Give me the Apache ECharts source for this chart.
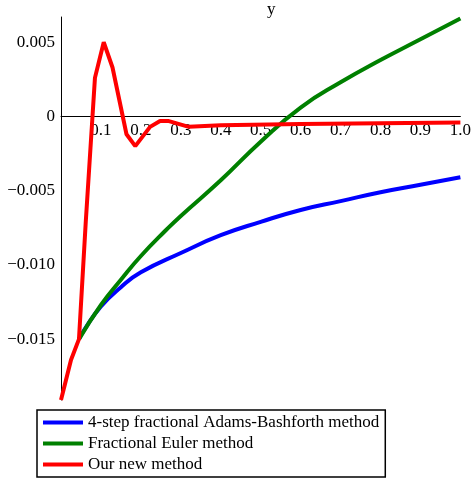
<!DOCTYPE html><html><head><meta charset="utf-8"><script src="https://cdn.jsdelivr.net/npm/echarts@6/dist/echarts.min.js"></script></head><body style="margin:0"><div id="c" style="width:474px;height:482px"></div><script>
const blueX=[0.045,0.06,0.1,0.15,0.2,0.3,0.4,0.5,0.6,0.7,0.8,0.9,1.0];
const blueY=[-0.015,-0.0143,-0.0128,-0.0115,-0.0105,-0.0092,-0.0080,-0.0071,-0.0063,-0.0057,-0.0051,-0.0046,-0.0041];
const greenX=[0.045,0.1,0.15,0.2,0.265,0.3,0.4,0.5,0.6,0.7,0.8,0.9,1.0];
const greenY=[-0.015,-0.0127,-0.0110,-0.0094,-0.0076,-0.0067,-0.0043,-0.0017,0.0006,0.0023,0.0038,0.0052,0.0066];
const redX=[0,0.025,0.045,0.062,0.085,0.107,0.129,0.164,0.186,0.223,0.248,0.268,0.32,0.4,0.6,0.8,1.0];
const redY=[-0.0191,-0.0164,-0.015,-0.0071,0.0026,0.005,0.0033,-0.0012,-0.002,-0.0007,-0.0003,-0.0003,-0.0007,-0.0006,-0.0005,-0.00045,-0.0004];
const xTicks=[0.1,0.2,0.3,0.4,0.5,0.6,0.7,0.8,0.9,1.0];
const yTicks=[-0.015,-0.01,-0.005,0,0.005];
const names=['4-step fractional Adams-Bashforth method','Fractional Euler method','Our new method'];
const z=(xs,ys)=>xs.map((x,i)=>[x,ys[i]]);
const F='Liberation Serif';
const yMin=-0.0191,yMax=0.0067;
const ch=echarts.init(document.getElementById('c'));
const gh=383, off=-gh*(-yMin)/(yMax-yMin);
ch.setOption({animation:false,
title:{text:'y',left:262,top:-4,textStyle:{fontFamily:F,fontSize:17,fontWeight:'normal',color:'#000'}},
grid:{left:61,right:11,top:17,bottom:82},
legend:{left:37,top:410,width:370,orient:'vertical',itemWidth:40,itemHeight:4,itemGap:4,padding:[4,6,4,6],borderColor:'#000',borderWidth:1.5,icon:'rect',textStyle:{fontFamily:F,fontSize:17,color:'#000'},data:names},
xAxis:{type:'value',min:0,max:1,offset:off,axisLine:{onZero:false,lineStyle:{color:'#000'}},axisTick:{show:false},splitLine:{show:false},
 axisLabel:{customValues:xTicks,formatter:v=>v.toFixed(1),fontFamily:F,fontSize:17,color:'#000',margin:6}},
yAxis:{type:'value',min:yMin,max:yMax,axisLine:{show:true,onZero:false,lineStyle:{color:'#000'}},axisTick:{show:false},splitLine:{show:false},
 axisLabel:{customValues:yTicks,formatter:v=>v===0?'0':(v<0?'\u2212':'')+Math.abs(v).toFixed(3),fontFamily:F,fontSize:17,color:'#000',margin:6}},
series:[
{name:names[0],type:'line',data:z(blueX,blueY),smooth:true,showSymbol:false,color:'#0000ff',lineStyle:{width:4}},
{name:names[1],type:'line',data:z(greenX,greenY),smooth:true,showSymbol:false,color:'#008000',lineStyle:{width:4}},
{name:names[2],type:'line',data:z(redX,redY),showSymbol:false,color:'#ff0000',lineStyle:{width:4}}]});
</script></body></html>
